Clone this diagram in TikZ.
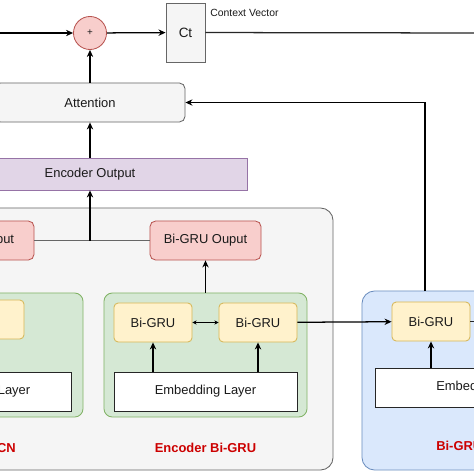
\documentclass[tikz,border=0pt]{standalone}
\usepackage{fontspec}
\setmainfont{Liberation Sans}
\usetikzlibrary{arrows.meta}
\definecolor{grigiochiaro}{HTML}{F5F5F5}
\definecolor{grigiobordo}{HTML}{666666}
\definecolor{rosa}{HTML}{F8CECC}
\definecolor{rosabordo}{HTML}{B85450}
\definecolor{verde}{HTML}{D5E8D4}
\definecolor{verdebordo}{HTML}{82B366}
\definecolor{giallo}{HTML}{FFF2CC}
\definecolor{giallobordo}{HTML}{D6B656}
\definecolor{viola}{HTML}{E1D5E7}
\definecolor{violabordo}{HTML}{9673A6}
\definecolor{azzurro}{HTML}{DAE8FC}
\definecolor{azzurrobordo}{HTML}{6C8EBF}
\definecolor{rosso}{HTML}{CC0000}
\definecolor{testo}{HTML}{1A1A1A}
\begin{document}
\begin{tikzpicture}[x=0.025cm, y=-0.025cm,
    font=\fontsize{9.2}{11}\selectfont, text=testo,
    blocco/.style={draw, inner sep=0pt, line width=0.6pt, align=center},
    scatola/.style={blocco, rounded corners=#1},
    scatola/.default=2pt,
    contenitore/.style={blocco, rounded corners=9pt},
    titolo/.style={font=\fontsize{9.2}{11}\selectfont\bfseries, text=rosso},
    freccia/.style={-{Stealth[length=5pt,width=4.5pt]}, line width=0.9pt, draw=black},
    doppia/.style={{Stealth[length=3pt,width=3pt]}-{Stealth[length=3pt,width=3pt]}, line width=0.6pt, draw=black},
    linea/.style={line width=0.9pt, draw=black!85}]
        % --- cornice ------------------------------------------------------
        \useasboundingbox (0,0) rectangle (474,474);
        \fill[white] (0,0) rectangle (474,474);
        \clip (0,0) rectangle (474,474);
        % --- contenitori --------------------------------------------------
        \node[contenitore, fill=grigiochiaro, draw=grigiobordo, minimum width=13.325cm, minimum height=6.55cm] (encoder) at (66.5,339) {};
        \node[contenitore, fill=azzurro, draw=azzurrobordo, minimum width=5.075cm, minimum height=4.475cm] (decoder) at (463.5,380.5) {};
        \node[scatola=6pt, fill=verde, draw=verdebordo, minimum width=5.075cm, minimum height=3.1cm] (gcnbox) at (-18.5,355) {};
        \node[scatola=6pt, fill=verde, draw=verdebordo, minimum width=5.075cm, minimum height=3.1cm] (grubox) at (205.5,355) {};
        % --- parte alta ---------------------------------------------------
        \node[blocco, circle, fill=rosa, draw=rosabordo, minimum size=0.825cm, font=\fontsize{7}{8}\selectfont] (piu) at (90,33) {+};
        \node[blocco, fill=grigiochiaro, draw=grigiobordo, minimum width=0.975cm, minimum height=1.475cm, font=\fontsize{9.6}{11}\selectfont] (ct) at (185.5,32.5) {Ct};
        \node[anchor=west, font=\fontsize{7.4}{9}\selectfont, inner sep=0pt] (ctnome) at (210,13) {Context Vector};
        \node[scatola=4pt, fill=grigiochiaro, draw=grigiobordo, minimum width=4.75cm, minimum height=0.975cm] (attenzione) at (90,102.5) {Attention};
        \node[blocco, fill=viola, draw=violabordo, minimum width=7.85cm, minimum height=0.8cm] (uscita) at (90,174) {Encoder Output};
        % --- uscite encoder -----------------------------------------------
        \node[scatola=4pt, fill=rosa, draw=rosabordo, minimum width=2.775cm, minimum height=0.975cm] (gcnout) at (-21.5,240.5) {GCN Output};
        \node[scatola=4pt, fill=rosa, draw=rosabordo, minimum width=2.775cm, minimum height=0.975cm] (gruout) at (205.5,240.5) {Bi-GRU Ouput};
        \coordinate (nodo) at (90,240.5);
        % --- celle gru ----------------------------------------------------
        \node[scatola=3pt, fill=giallo, draw=giallobordo, minimum width=1.95cm, minimum height=0.975cm] (gcncella) at (-15,319.5) {};
        \node[scatola=3pt, fill=giallo, draw=giallobordo, minimum width=1.95cm, minimum height=0.975cm] (gruA) at (153,322.5) {Bi-GRU};
        \node[scatola=3pt, fill=giallo, draw=giallobordo, minimum width=1.95cm, minimum height=0.975cm] (gruB) at (258,322.5) {Bi-GRU};
        \node[scatola=3pt, fill=giallo, draw=giallobordo, minimum width=1.95cm, minimum height=0.975cm] (gruC) at (431,321.5) {Bi-GRU};
        % --- embedding ----------------------------------------------------
        \node[blocco, fill=white, draw=black!85, minimum width=4.575cm, minimum height=0.975cm] (gcnemb) at (-20.5,391.5) {Embedding Layer};
        \node[blocco, fill=white, draw=black!85, minimum width=4.575cm, minimum height=0.975cm] (gruemb) at (205.5,391.5) {Embedding Layer};
        \node[blocco, fill=white, draw=black!85, minimum width=5.6cm, minimum height=0.975cm] (decemb) at (487,387.5) {Embedding Layer};
        % --- titoli -------------------------------------------------------
        \node[titolo, anchor=east, inner sep=0pt] (gcnnome) at (16,448) {Encoder GCN};
        \node[titolo] (grunome) at (205.5,448) {Encoder Bi-GRU};
        \node[titolo, anchor=west, inner sep=0pt] (decnome) at (436,446) {Bi-GRU Decoder};
        % --- collegamenti -------------------------------------------------
        \coordinate (ingresso) at (-10,33);
        \coordinate (fuori) at (480,33);
        \coordinate (salita) at (425,291);
        \coordinate (avanti) at (480,321.5);
        \draw[freccia] (ingresso) -- (piu);
        \draw[freccia] (piu) -- (ct);
        \draw[linea] (ct) -- (fuori);
        \draw[freccia] (attenzione) -- (piu);
        \draw[freccia] (uscita) -- (attenzione);
        \draw[freccia] (salita) |- (attenzione.east);
        \draw[linea, draw=grigiobordo] (gcnout) -- (gruout);
        \draw[freccia] (nodo) -- (uscita);
        \draw[freccia] (grubox) -- (gruout);
        \draw[doppia] (gruA) -- (gruB);
        \draw[freccia] (gruemb.north -| gruA) -- (gruA);
        \draw[freccia] (gruemb.north -| gruB) -- (gruB);
        \draw[freccia] (gruB) -- (gruC);
        \draw[freccia] (decemb.north -| gruC) -- (gruC);
        \draw[linea] (gruC) -- (avanti);
\end{tikzpicture}
\end{document}
